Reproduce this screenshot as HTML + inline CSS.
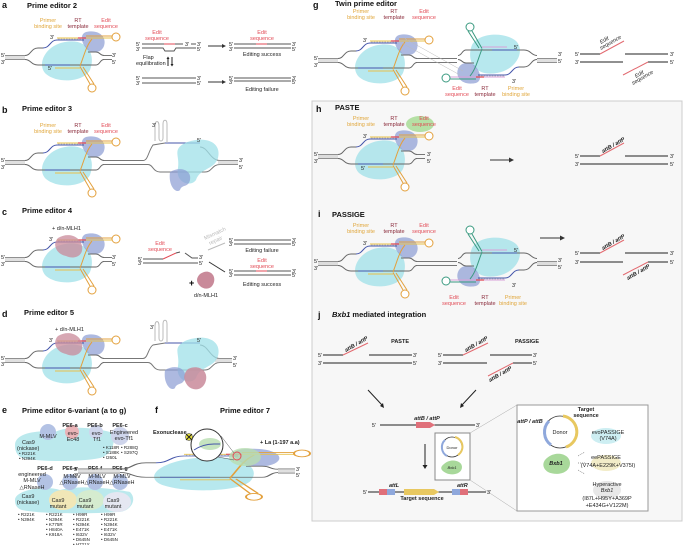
<!DOCTYPE html>
<html><head><meta charset="utf-8"><style>
html,body{margin:0;padding:0;background:#fff}
svg{display:block;font-family:"Liberation Sans",sans-serif}
.t{font-size:7.5px;font-weight:bold;fill:#111}
.p{font-size:9px;font-weight:bold;fill:#111}
.s{font-size:5.5px;fill:#222}
.y{font-size:5.5px;fill:#e0a63a}
.r{font-size:5.5px;fill:#e24a55}
.m{font-size:5.5px;fill:#8a2a3a}
.g{font-size:5.5px;fill:#333}
.guide{stroke:var(--g,#e3a03c)}
.gl{stroke:var(--g,#e3a03c);fill:#fff}
.pbs{stroke:var(--p,#e8c04a)}
</style></head><body>
<svg width="685" height="545" viewBox="0 0 685 545" xmlns="http://www.w3.org/2000/svg">
<defs>
<g id="pe" fill="none" stroke-width="1">
 <path d="M65,42 C88,38 96,55 90,70 C84,82 58,84 46,74 C36,64 46,45 65,42Z" fill="#9fe0e8" stroke="none" opacity=".75"/>
 <path d="M86,32 C100,29 107,38 104,46 C101,54 90,54 86,48 C81,42 80,34 86,32Z" fill="#8a9bd3" stroke="none" opacity=".7"/>
 <path d="M25,55.5 C31,55.5 31,48 38,48 L43,48" stroke="#666"/>
 <path d="M43,48 C50,48 50,40 57,40 L84,40" stroke="#4455aa"/>
 <path d="M88,52 L96,52 C100,52 100,55.5 104,55.5" stroke="#666"/>
 <path d="M25,59.5 C31,59.5 31,65 38,65 L96,65 C100,65 100,59.5 104,59.5" stroke="#666"/>
 <path d="M45,65 L70,65" stroke="#4455aa"/>
 <line x1="57" y1="38" x2="112" y2="38" class="pbs"/>
 <line x1="78" y1="38" x2="86" y2="38" stroke="#e24a55" stroke-width="1.3"/>
 <line x1="58" y1="39" x2="84" y2="39" stroke="#aaa" stroke-dasharray="0.6 1"/>
 <line x1="86" y1="36" x2="112" y2="36" class="guide"/>
 <circle cx="116" cy="37" r="4" class="gl"/>
 <line x1="55" y1="68" x2="80" y2="68" class="pbs"/>
 <path d="M80,66.5 L90,84 M83,67 L94,84" class="guide"/>
 <circle cx="92" cy="88" r="4" class="gl"/>
 <path d="M80,66 C84,56 86,46 92,39" class="guide"/>
</g>
</defs>

<rect x="312" y="101" width="370" height="420" fill="#f7f7f7" stroke="#ccc" stroke-width="1"/>

<!-- ===== a ===== -->
<text x="2" y="8" class="p">a</text><text x="27" y="8" class="t">Prime editor 2</text>
<text x="48" y="22" class="y" text-anchor="middle">Primer</text><text x="48" y="28" class="y" text-anchor="middle">binding site</text>
<text x="78" y="22" class="m" text-anchor="middle">RT</text><text x="78" y="28" class="m" text-anchor="middle">template</text>
<text x="106" y="22" class="r" text-anchor="middle">Edit</text><text x="106" y="28" class="r" text-anchor="middle">sequence</text>
<use href="#pe"/>
<path d="M5,55.5H25M5,59.5H25M104,55.5H112M104,59.5H112" stroke="#777"/>
<rect x="5" y="55.5" width="20" height="4" fill="#ccc" opacity=".6"/>
<text x="1" y="57" class="s">5'</text><text x="1" y="64" class="s">3'</text>
<text x="112" y="57" class="s">3'</text><text x="112" y="64" class="s">5'</text>
<text x="50" y="39" class="s">3'</text><text x="48" y="70" class="s">5'</text>
<text x="157" y="34" class="r" text-anchor="middle">Edit</text><text x="157" y="40" class="r" text-anchor="middle">sequence</text>
<path d="M142,44H164M175,44H183M191,44H196" stroke="#555"/><path d="M164,44H175" stroke="#e24a55"/>
<path d="M142,48H163L165,51H174L176,48H196" stroke="#555" fill="none"/>
<text x="136" y="46" class="s">5'</text><text x="136" y="51" class="s">3'</text><text x="185" y="46" class="s">3'</text><text x="197" y="46" class="s">3'</text><text x="197" y="51" class="s">5'</text>
<text x="143" y="59" class="s">Flap</text><text x="136" y="65" class="s">equilibration</text>
<path d="M168,57V66M172,57V66" stroke="#222"/><path d="M166.5,59L168,56.5L169.5,59M170.5,64L172,66.5L173.5,64" fill="#222"/>
<path d="M142,78H196M142,83H196" stroke="#555"/>
<text x="136" y="80" class="s">5'</text><text x="136" y="85" class="s">3'</text><text x="197" y="80" class="s">3'</text><text x="197" y="85" class="s">5'</text>
<path d="M208,46H222M208,82H222" stroke="#333"/><path d="M222,44L226,46L222,48ZM222,80L226,82L222,84Z" fill="#333"/>
<text x="262" y="34" class="r" text-anchor="middle">Edit</text><text x="262" y="40" class="r" text-anchor="middle">sequence</text>
<path d="M234,44H291M234,48H291" stroke="#555"/><path d="M256,44H267" stroke="#e24a55"/>
<text x="229" y="46" class="s">5'</text><text x="229" y="51" class="s">3'</text><text x="292" y="46" class="s">3'</text><text x="292" y="51" class="s">5'</text>
<text x="262" y="56" class="s" text-anchor="middle">Editing success</text>
<path d="M234,78H291M234,81H291" stroke="#555"/>
<text x="229" y="80" class="s">5'</text><text x="229" y="84" class="s">3'</text><text x="292" y="80" class="s">3'</text><text x="292" y="84" class="s">5'</text>
<text x="262" y="91" class="s" text-anchor="middle">Editing failure</text>

<!-- ===== b ===== -->
<text x="2" y="113" class="p">b</text><text x="22" y="111" class="t">Prime editor 3</text>
<text x="48" y="127" class="y" text-anchor="middle">Primer</text><text x="48" y="133" class="y" text-anchor="middle">binding site</text>
<text x="78" y="127" class="m" text-anchor="middle">RT</text><text x="78" y="133" class="m" text-anchor="middle">template</text>
<text x="106" y="127" class="r" text-anchor="middle">Edit</text><text x="106" y="133" class="r" text-anchor="middle">sequence</text>
<use href="#pe" y="105"/>
<g fill="none" stroke="#777">
<path d="M5,160.5H25M5,164.5H25M104,160.5H143C148,160.5 148,152 153,145 L165,143 M104,164.5H148C153,164.5 153,172 160,172L205,172 C212,172 212,164.5 220,164.5H238M200,147C208,147 210,160.5 220,160.5H238"/>
<path d="M165,143H200" stroke="#4455aa"/>
<path d="M155,141V126C155,120 159,120 159,126V138C159,142 163,142 163,138V124C163,119 167,119 167,124V143" stroke="#bbb"/>
</g>
<rect x="5" y="160.5" width="20" height="4" fill="#ccc" opacity=".6"/><rect x="218" y="160.5" width="20" height="4" fill="#ccc" opacity=".6"/>
<path d="M185,143C205,135 222,142 218,158C214,170 200,168 196,180C190,188 175,182 178,168C180,155 172,150 185,143Z" fill="#9fe0e8" opacity=".75"/>
<path d="M170,172C180,166 192,170 190,180C188,188 182,184 180,190C176,194 168,186 170,172Z" fill="#8a9bd3" opacity=".7"/>
<text x="1" y="162" class="s">5'</text><text x="1" y="169" class="s">3'</text><text x="239" y="162" class="s">3'</text><text x="239" y="169" class="s">5'</text>
<text x="152" y="127" class="s">3'</text><text x="197" y="142" class="s">5'</text>

<!-- ===== c ===== -->
<text x="2" y="215" class="p">c</text><text x="22" y="213" class="t">Prime editor 4</text>
<text x="52" y="230" class="s">+ d/n-MLH1</text>
<use href="#pe" y="202"/>
<path d="M5,257.5H25M5,261.5H25M104,257.5H112M104,261.5H112" stroke="#777"/>
<rect x="5" y="257.5" width="20" height="4" fill="#ccc" opacity=".6"/>
<path d="M58,238C68,232 80,236 82,246C84,256 74,260 66,256C56,254 52,244 58,238Z" fill="#c98a9a" opacity=".75"/>
<text x="1" y="259" class="s">5'</text><text x="1" y="266" class="s">3'</text><text x="112" y="259" class="s">3'</text><text x="112" y="266" class="s">5'</text>
<text x="49" y="241" class="s">3'</text>
<text x="160" y="245" class="r" text-anchor="middle">Edit</text><text x="160" y="251" class="r" text-anchor="middle">sequence</text>
<path d="M143,259H163" stroke="#555"/><path d="M163,259L176,253" stroke="#e24a55"/><path d="M176,253L180,252M185,253L192,258H198M143,263H198" stroke="#555" fill="none"/>
<text x="138" y="261" class="s">5'</text><text x="138" y="265" class="s">3'</text><text x="199" y="259" class="s">3'</text><text x="199" y="265" class="s">5'</text>
<text x="205" y="240" class="s" style="fill:#bbb" transform="rotate(-25 205 240)">Mismatch</text>
<text x="210" y="245" class="s" style="fill:#bbb" transform="rotate(-25 210 245)">repair</text>
<path d="M208,250L225,243" stroke="#bbb"/>
<path d="M234,240H291M234,244H291" stroke="#555"/>
<text x="229" y="242" class="s">5'</text><text x="229" y="246" class="s">3'</text><text x="292" y="242" class="s">3'</text><text x="292" y="246" class="s">5'</text>
<text x="262" y="252" class="s" text-anchor="middle">Editing failure</text>
<text x="262" y="262" class="r" text-anchor="middle">Edit</text><text x="262" y="268" class="r" text-anchor="middle">sequence</text>
<path d="M209,262L225,272" stroke="#333"/>
<path d="M234,271H291M234,275H291" stroke="#555"/><path d="M256,271H267" stroke="#e24a55"/>
<text x="229" y="273" class="s">5'</text><text x="229" y="277" class="s">3'</text><text x="292" y="273" class="s">3'</text><text x="292" y="277" class="s">5'</text>
<text x="262" y="286" class="s" text-anchor="middle">Editing success</text>
<text x="189" y="286" style="font-size:9px;font-weight:bold">+</text>
<path d="M200,274C208,268 216,274 214,282C212,290 204,290 200,286C196,282 196,278 200,274Z" fill="#c98a9a"/>
<text x="206" y="297" class="s" text-anchor="middle">d/n-MLH1</text>

<!-- ===== d ===== -->
<text x="2" y="317" class="p">d</text><text x="24" y="315" class="t">Prime editor 5</text>
<text x="55" y="331" class="s">+ d/n-MLH1</text>
<use href="#pe" y="303"/>
<g fill="none" stroke="#777">
<path d="M5,358.5H25M5,362.5H25M104,358.5H143C148,358.5 148,348 153,345 L165,343 M104,362.5H148C153,362.5 153,370 160,370L205,370 C212,370 212,362.5 220,362.5H232M200,345C208,345 210,358.5 220,358.5H232"/>
<path d="M165,343H200" stroke="#4455aa"/>
<path d="M155,341V326C155,320 159,320 159,326V338C159,342 163,342 163,338V324C163,319 167,319 167,324V343" stroke="#bbb"/>
</g>
<rect x="5" y="358.5" width="20" height="4" fill="#ccc" opacity=".6"/><rect x="215" y="358.5" width="17" height="4" fill="#ccc" opacity=".6"/>
<path d="M185,341C205,333 222,340 218,356C214,368 200,366 196,378C190,386 175,380 178,366C180,353 172,348 185,341Z" fill="#9fe0e8" opacity=".75"/>
<path d="M165,370C175,364 187,368 185,378C183,386 177,382 175,388C171,392 163,384 165,370Z" fill="#8a9bd3" opacity=".7"/>
<path d="M188,369C198,364 208,370 206,380C204,390 194,392 188,386C183,380 183,374 188,369Z" fill="#c98a9a" opacity=".85"/>
<path d="M58,336C68,330 80,334 82,344C84,354 74,358 66,354C56,352 52,342 58,336Z" fill="#c98a9a" opacity=".75"/>
<text x="1" y="360" class="s">5'</text><text x="1" y="366" class="s">3'</text><text x="233" y="360" class="s">3'</text><text x="233" y="367" class="s">5'</text>
<text x="150" y="329" class="s">3'</text><text x="197" y="342" class="s">5'</text><text x="49" y="342" class="s">3'</text>

<!-- ===== e ===== -->
<text x="2" y="413" class="p">e</text><text x="22" y="413" class="t">Prime editor 6-variant (a to g)</text>
<g opacity=".75">
<path d="M15,445C15,432 40,430 55,432C70,425 95,428 110,432C118,440 112,455 100,458C80,462 40,462 22,458C16,455 15,450 15,445Z" fill="#a5e2e8"/>
<circle cx="48" cy="432" r="8" fill="#9aaedc"/><circle cx="72" cy="432" r="7" fill="#e29aa0"/><circle cx="96" cy="432" r="7" fill="#c0c8e6"/><circle cx="120" cy="436" r="9" fill="#c0c8e6"/>
<path d="M15,500C15,490 45,485 60,490C80,485 110,488 130,492C138,500 130,512 118,512C90,514 40,514 22,510C16,508 15,504 15,500Z" fill="#a5e2e8"/>
<ellipse cx="63" cy="500" rx="14" ry="10" fill="#ede0a0"/><ellipse cx="90" cy="500" rx="14" ry="10" fill="#c8e6c0"/><ellipse cx="117" cy="502" rx="14" ry="10" fill="#dde0ee"/>
<circle cx="45" cy="482" r="8" fill="#9aaedc"/><circle cx="70" cy="482" r="8" fill="#9aaedc"/><circle cx="95" cy="482" r="8" fill="#9aaedc"/><circle cx="120" cy="482" r="8" fill="#9aaedc"/>
</g>
<text x="70" y="427" class="s" text-anchor="middle" font-weight="bold">PE6-a</text><text x="95" y="427" class="s" text-anchor="middle" font-weight="bold">PE6-b</text><text x="120" y="427" class="s" text-anchor="middle" font-weight="bold">PE6-c</text>
<text x="48" y="438" class="s" text-anchor="middle">M-MLV</text>
<text x="73" y="435" class="s" text-anchor="middle">evo-</text><text x="73" y="441" class="s" text-anchor="middle">Ec48</text>
<text x="97" y="435" class="s" text-anchor="middle">evo-</text><text x="97" y="441" class="s" text-anchor="middle">Tf1</text>
<text x="124" y="434" class="s" text-anchor="middle">Engineered</text><text x="124" y="440" class="s" text-anchor="middle">evo-Tf1</text>
<text x="22" y="444" class="s">Cas9</text><text x="17" y="450" class="s">(nickase)</text>
<text x="19" y="455" class="s" style="font-size:4.5px">• R221K</text><text x="19" y="460" class="s" style="font-size:4.5px">• N394K</text>
<text x="103" y="449" class="s" style="font-size:4.5px">• K118R</text><text x="103" y="454" class="s" style="font-size:4.5px">• S188K</text><text x="103" y="459" class="s" style="font-size:4.5px">• I260L</text>
<text x="121" y="449" class="s" style="font-size:4.5px">• R288Q</text><text x="121" y="454" class="s" style="font-size:4.5px">• S297Q</text>
<text x="45" y="470" class="s" text-anchor="middle" font-weight="bold">PE6-d</text><text x="70" y="470" class="s" text-anchor="middle" font-weight="bold">PE6-e</text><text x="95" y="470" class="s" text-anchor="middle" font-weight="bold">PE6-f</text><text x="120" y="470" class="s" text-anchor="middle" font-weight="bold">PE6-g</text>
<text x="32" y="476" class="s" text-anchor="middle">engineered</text><text x="32" y="482" class="s" text-anchor="middle">M-MLV</text><text x="32" y="489" class="s" text-anchor="middle">△RNaseH</text>
<text x="72" y="478" class="s" text-anchor="middle">M-MLV</text><text x="72" y="484" class="s" text-anchor="middle">△RNaseH</text>
<text x="97" y="478" class="s" text-anchor="middle">M-MLV</text><text x="97" y="484" class="s" text-anchor="middle">△RNaseH</text>
<text x="122" y="478" class="s" text-anchor="middle">M-MLV</text><text x="122" y="484" class="s" text-anchor="middle">△RNaseH</text>
<text x="28" y="498" class="s" text-anchor="middle">Cas9</text><text x="28" y="504" class="s" text-anchor="middle">(nickase)</text>
<text x="58" y="502" class="s" text-anchor="middle">Cas9</text><text x="58" y="508" class="s" text-anchor="middle">mutant</text>
<text x="85" y="502" class="s" text-anchor="middle">Cas9</text><text x="85" y="508" class="s" text-anchor="middle">mutant</text>
<text x="113" y="502" class="s" text-anchor="middle">Cas9</text><text x="113" y="508" class="s" text-anchor="middle">mutant</text>
<g class="s" style="font-size:4.5px">
<text x="18" y="516">• R221K</text><text x="18" y="521">• N394K</text>
<text x="46" y="516">• R221K</text><text x="46" y="521">• N394K</text><text x="46" y="526">• K775R</text><text x="46" y="531">• H840A</text><text x="46" y="536">• K918A</text>
<text x="73" y="516">• H99R</text><text x="73" y="521">• R221K</text><text x="73" y="526">• N394K</text><text x="73" y="531">• E471K</text><text x="73" y="536">• I632V</text><text x="73" y="541">• D645N</text><text x="73" y="546">• H721Y</text>
<text x="101" y="516">• H99R</text><text x="101" y="521">• R221K</text><text x="101" y="526">• N394K</text><text x="101" y="531">• E471K</text><text x="101" y="536">• I632V</text><text x="101" y="541">• D645N</text>
</g>

<!-- ===== f ===== -->
<text x="155" y="413" class="p">f</text><text x="220" y="413" class="t">Prime editor 7</text>
<text x="153" y="434" class="s" font-weight="bold">Exonuclease</text>
<use href="#pe" transform="translate(70,422) scale(2,0.85)"/>
<path d="M78,469H120M78,473H120M278,469H295M278,473H295" stroke="#777"/>
<rect x="78" y="469" width="42" height="4" fill="#ccc" opacity=".6"/><rect x="278" y="469" width="17" height="4" fill="#ccc" opacity=".6"/>
<ellipse cx="245" cy="457" rx="16" ry="9" fill="#b8ddb0" opacity=".8"/>
<circle cx="207" cy="445" r="16" fill="#fff" stroke="#333"/>
<ellipse cx="210" cy="444" rx="11" ry="6" fill="#b8ddb0" opacity=".8"/>
<path d="M194,450C200,446 206,444 214,444H220" stroke="#4455aa" fill="none"/>
<circle cx="189" cy="437" r="3.5" fill="#e6e03a" stroke="#333" stroke-width=".5"/>
<path d="M186,434L192,440M192,434L186,440" stroke="#222"/>
<circle cx="237" cy="456" r="4" fill="none" stroke="#e24a55"/>
<path d="M221,436L234,453M218,457L234,460" stroke="#555" stroke-width=".5"/>
<text x="260" y="444" class="s" font-weight="bold">+ La (1-197 a.a)</text>
<text x="74" y="471" class="s">5'</text><text x="74" y="477" class="s">3'</text><text x="296" y="471" class="s">3'</text><text x="296" y="477" class="s">5'</text>

<!-- ===== g ===== -->
<text x="313" y="8" class="p">g</text><text x="335" y="6" class="t">Twin prime editor</text>
<text x="361" y="13" class="y" text-anchor="middle">Primer</text><text x="361" y="19" class="y" text-anchor="middle">binding site</text>
<text x="394" y="13" class="m" text-anchor="middle">RT</text><text x="394" y="19" class="m" text-anchor="middle">template</text>
<text x="424" y="13" class="r" text-anchor="middle">Edit</text><text x="424" y="19" class="r" text-anchor="middle">sequence</text>
<use href="#pe" x="313" y="3"/>
<use href="#pe" transform="rotate(180 281 57.5)" style="--g:#3a9a80;--p:#d9a0d8"/>
<path d="M318,58.5H338M318,62.5H338M417,58.5H457M417,62.5H457M537,58.5H557M537,62.5H557" stroke="#777"/>
<rect x="318" y="58.5" width="20" height="4" fill="#ccc" opacity=".6"/><rect x="537" y="58.5" width="20" height="4" fill="#ccc" opacity=".6"/>
<path d="M400,42L460,75M404,38L463,71" stroke="#bbb" stroke-width=".5"/>
<text x="314" y="60" class="s">5'</text><text x="314" y="67" class="s">3'</text><text x="558" y="56" class="s">3'</text><text x="558" y="63" class="s">5'</text>
<text x="363" y="42" class="s">3'</text><text x="514" y="49" class="s">5'</text><text x="512" y="83" class="s">3'</text>
<text x="457" y="90" class="r" text-anchor="middle">Edit</text><text x="457" y="96" class="r" text-anchor="middle">sequence</text>
<text x="485" y="90" class="m" text-anchor="middle">RT</text><text x="485" y="96" class="m" text-anchor="middle">template</text>
<text x="516" y="90" class="y" text-anchor="middle">Primer</text><text x="516" y="96" class="y" text-anchor="middle">binding site</text>
<path d="M580,54H600M625,54H668M580,62H623M648,62H668" stroke="#222"/>
<path d="M600,54L624,41M648,62L623,75" stroke="#e26a70"/>
<text x="575" y="56" class="s">5'</text><text x="575" y="64" class="s">3'</text><text x="670" y="56" class="s">3'</text><text x="670" y="64" class="s">5'</text>
<text x="601" y="44" class="s" font-style="italic" transform="rotate(-30 601 44)">Edit</text><text x="601" y="50" class="s" font-style="italic" transform="rotate(-30 601 50)">sequence</text>
<text x="636" y="78" class="s" font-style="italic" transform="rotate(-30 636 78)">Edit</text><text x="633" y="85" class="s" font-style="italic" transform="rotate(-30 633 85)">sequence</text>

<!-- ===== h ===== -->
<text x="316" y="112" class="p">h</text><text x="335" y="110" class="t">PASTE</text>
<text x="361" y="120" class="y" text-anchor="middle">Primer</text><text x="361" y="126" class="y" text-anchor="middle">binding site</text>
<text x="394" y="120" class="m" text-anchor="middle">RT</text><text x="394" y="126" class="m" text-anchor="middle">template</text>
<ellipse cx="420" cy="124" rx="14" ry="8" fill="#9fd88a" opacity=".75"/>
<text x="424" y="120" class="r" text-anchor="middle">Edit</text><text x="424" y="126" class="r" text-anchor="middle">sequence</text>
<use href="#pe" x="313" y="99"/>
<path d="M318,154.5H338M318,158.5H338M417,154.5H425M417,158.5H425" stroke="#777"/>
<rect x="318" y="154.5" width="20" height="4" fill="#ccc" opacity=".6"/>
<text x="314" y="156" class="s">5'</text><text x="314" y="163" class="s">3'</text><text x="427" y="156" class="s">3'</text><text x="427" y="163" class="s">5'</text>
<text x="363" y="138" class="s">3'</text><text x="361" y="170" class="s">5'</text>
<path d="M490,160H509" stroke="#333"/><path d="M509,157.5L514,160L509,162.5Z" fill="#333"/>
<path d="M580,156H600M625,156H668M580,164H668" stroke="#222"/><path d="M600,156L624,143" stroke="#e26a70"/>
<text x="575" y="158" class="s">5'</text><text x="575" y="166" class="s">3'</text><text x="670" y="158" class="s">3'</text><text x="670" y="166" class="s">5'</text>
<text x="603" y="153" class="s" font-style="italic" font-weight="bold" transform="rotate(-30 603 153)">attB / attP</text>

<!-- ===== i ===== -->
<text x="318" y="217" class="p">i</text><text x="332" y="217" class="t">PASSIGE</text>
<text x="361" y="227" class="y" text-anchor="middle">Primer</text><text x="361" y="233" class="y" text-anchor="middle">binding site</text>
<text x="394" y="227" class="m" text-anchor="middle">RT</text><text x="394" y="233" class="m" text-anchor="middle">template</text>
<text x="424" y="227" class="r" text-anchor="middle">Edit</text><text x="424" y="233" class="r" text-anchor="middle">sequence</text>
<use href="#pe" x="313" y="206"/>
<use href="#pe" transform="rotate(180 281 159)" style="--g:#3a9a80;--p:#d9a0d8"/>
<path d="M318,261.5H338M318,265.5H338M417,261.5H457M417,265.5H457M537,261.5H557M537,265.5H557" stroke="#777"/>
<rect x="318" y="261.5" width="20" height="4" fill="#ccc" opacity=".6"/><rect x="537" y="261.5" width="20" height="4" fill="#ccc" opacity=".6"/>
<text x="314" y="263" class="s">5'</text><text x="314" y="270" class="s">3'</text><text x="558" y="262" class="s">3'</text><text x="558" y="269" class="s">5'</text>
<text x="363" y="245" class="s">3'</text><text x="514" y="252" class="s">5'</text><text x="512" y="287" class="s">3'</text>
<text x="454" y="299" class="r" text-anchor="middle">Edit</text><text x="454" y="305" class="r" text-anchor="middle">sequence</text>
<text x="485" y="299" class="m" text-anchor="middle">RT</text><text x="485" y="305" class="m" text-anchor="middle">template</text>
<text x="513" y="299" class="y" text-anchor="middle">Primer</text><text x="513" y="305" class="y" text-anchor="middle">binding site</text>
<path d="M540,238H560" stroke="#333"/><path d="M560,235.5L565,238L560,240.5Z" fill="#333"/>
<path d="M580,253H600M625,253H668M580,262H623M648,262H668" stroke="#222"/>
<path d="M600,253L624,240M648,262L623,275" stroke="#e26a70"/>
<text x="575" y="255" class="s">5'</text><text x="575" y="264" class="s">3'</text><text x="670" y="255" class="s">3'</text><text x="670" y="264" class="s">5'</text>
<text x="603" y="250" class="s" font-style="italic" font-weight="bold" transform="rotate(-30 603 250)">attB / attP</text>
<text x="628" y="280" class="s" font-style="italic" font-weight="bold" transform="rotate(-30 628 280)">attB / attP</text>

<!-- ===== j ===== -->
<text x="318" y="318" class="p">j</text><text x="332" y="317" class="t"><tspan font-style="italic">Bxb1</tspan> mediated integration</text>
<path d="M323,355H343M369,355H412M323,363H412" stroke="#222"/><path d="M343,355L368,343" stroke="#e26a70"/>
<text x="318" y="357" class="s">5'</text><text x="318" y="365" class="s">3'</text><text x="413" y="357" class="s">3'</text><text x="413" y="365" class="s">5'</text>
<text x="346" y="352" class="s" font-style="italic" font-weight="bold" transform="rotate(-30 346 352)">attB / attP</text>
<text x="409" y="343" class="s" font-weight="bold" text-anchor="end">PASTE</text>
<path d="M443,355H463M490,355H532M443,363H487M513,363H532" stroke="#222"/><path d="M463,355L488,343M513,363L488,376" stroke="#e26a70"/>
<text x="438" y="357" class="s">5'</text><text x="438" y="365" class="s">3'</text><text x="533" y="357" class="s">3'</text><text x="533" y="365" class="s">5'</text>
<text x="466" y="352" class="s" font-style="italic" font-weight="bold" transform="rotate(-30 466 352)">attB / attP</text>
<text x="490" y="382" class="s" font-style="italic" font-weight="bold" transform="rotate(-30 490 382)">attB / attP</text>
<text x="539" y="343" class="s" font-weight="bold" text-anchor="end">PASSIGE</text>
<path d="M368,390L382,405M476,390L462,405" stroke="#222"/><path d="M380,406L384,408L383,403ZM464,406L460,408L461,403Z" fill="#222"/>
<path d="M380,425H475" stroke="#222"/><path d="M416,422H430L435,425L430,428H416Z" fill="#e0707a"/>
<text x="376" y="427" class="s" text-anchor="end">5'</text><text x="476" y="427" class="s">3'</text>
<text x="427" y="420" class="s" font-style="italic" font-weight="bold" text-anchor="middle">attB / attP</text>
<path d="M425,444V466" stroke="#222"/><path d="M422.5,465L425,469L427.5,465Z" fill="#222"/>
<rect x="435" y="433" width="35" height="47" fill="#fff" stroke="#888"/>
<circle cx="452" cy="447" r="10" fill="none" stroke="#333" stroke-width=".8"/>
<path d="M445,440A10,10 0 0 0 447,456" stroke="#8fa8dc" stroke-width="2" fill="none"/><path d="M455,437A10,10 0 0 1 458,455" stroke="#e8c860" stroke-width="2" fill="none"/>
<text x="452" y="449" class="s" style="font-size:4px" text-anchor="middle">Donor</text>
<path d="M444,464C450,458 462,460 462,467C462,474 452,476 446,473C440,470 440,467 444,464Z" fill="#a8d89a"/>
<text x="452" y="469" class="s" style="font-size:4px" font-style="italic" text-anchor="middle">Bxb1</text>
<path d="M470,433L517,405M470,480L517,511" stroke="#aaa" stroke-width=".5"/>
<path d="M368,492H486" stroke="#222"/>
<rect x="379" y="489" width="8" height="6" fill="#e0707a"/><rect x="387" y="489" width="8" height="6" fill="#8fa8dc"/>
<path d="M404,489H434L439,492L434,495H404Z" fill="#e8c860"/>
<rect x="452" y="489" width="8" height="6" fill="#8fa8dc"/><rect x="460" y="489" width="8" height="6" fill="#e0707a"/>
<text x="363" y="494" class="s">5'</text><text x="487" y="494" class="s">3'</text>
<text x="389" y="487" class="s" font-style="italic" font-weight="bold">attL</text><text x="457" y="487" class="s" font-style="italic" font-weight="bold">attR</text>
<text x="422" y="500" class="s" font-weight="bold" text-anchor="middle">Target sequence</text>
<rect x="517" y="405" width="131" height="106" fill="#fff" stroke="#999"/>
<circle cx="560" cy="432" r="16" fill="none" stroke="#333" stroke-width=".8"/>
<path d="M549,421A16,16 0 0 0 551,445" stroke="#8fa8dc" stroke-width="3" fill="none"/><path d="M563,416A16,16 0 0 1 566,447" stroke="#e8c860" stroke-width="3" fill="none"/>
<text x="560" y="434" class="s" text-anchor="middle">Donor</text>
<text x="586" y="411" class="s" font-weight="bold" text-anchor="middle">Target</text><text x="586" y="417" class="s" font-weight="bold" text-anchor="middle">sequence</text>
<text x="530" y="423" class="s" font-style="italic" font-weight="bold" text-anchor="middle">attP / attB</text>
<path d="M547,458C556,450 570,454 570,463C570,474 556,476 548,472C542,468 542,462 547,458Z" fill="#a8d89a"/>
<text x="556" y="465" class="s" font-style="italic" font-weight="bold" text-anchor="middle">Bxb1</text>
<ellipse cx="606" cy="436" rx="15" ry="8" fill="#cdeef2"/><ellipse cx="606" cy="463" rx="15" ry="8" fill="#f2ecc8"/><ellipse cx="607" cy="490" rx="14" ry="9" fill="#e8e8e8"/>
<path d="M578,456L585,452M578,463H585M578,470L585,474" stroke="#333" stroke-width=".5" stroke-dasharray="1 1"/>
<text x="608" y="434" class="s" text-anchor="middle">evoPASSIGE</text><text x="608" y="440" class="s" text-anchor="middle">(V74A)</text>
<text x="606" y="459" class="s" text-anchor="middle">eePASSIGE</text><text x="608" y="467" class="s" text-anchor="middle">(V74A+E229K+V375I)</text>
<text x="607" y="486" class="s" text-anchor="middle">Hyperactive</text><text x="607" y="492" class="s" font-style="italic" text-anchor="middle">Bxb1</text>
<text x="607" y="500" class="s" text-anchor="middle">(I87L+H95Y+A369P</text><text x="607" y="507" class="s" text-anchor="middle">+E434G+V122M)</text>
</svg>
</body></html>
